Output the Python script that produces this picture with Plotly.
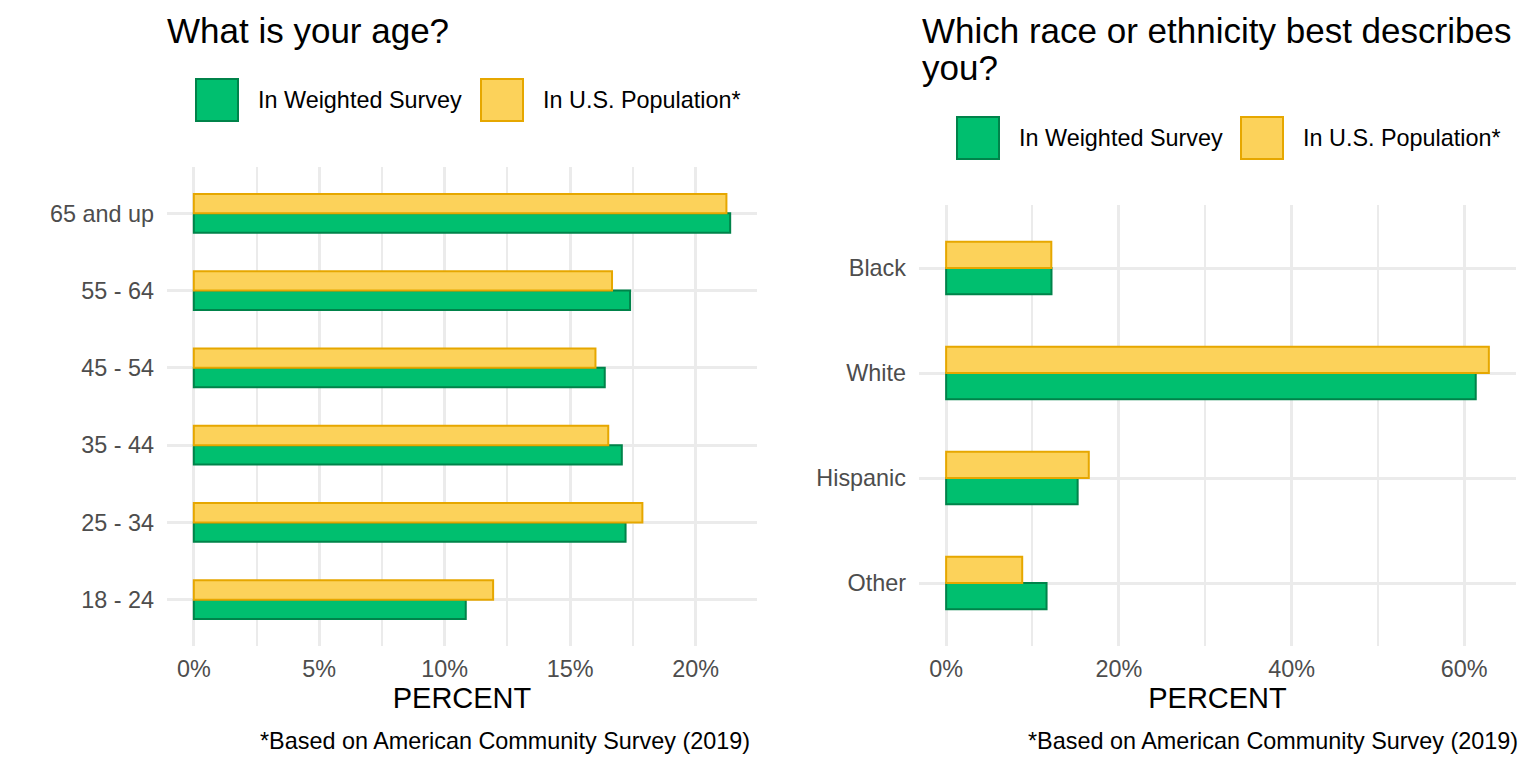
import plotly.graph_objects as go

# age panel
age_groups = ["18 - 24", "25 - 34", "35 - 44", "45 - 54", "55 - 64", "65 and up"]
age_survey = [10.84, 17.21, 17.06, 16.38, 17.39, 21.38]
age_pop = [11.93, 17.88, 16.52, 16.01, 16.67, 21.23]

# race panel
race_groups = ["Other", "Hispanic", "White", "Black"]
race_survey = [11.63, 15.23, 61.33, 12.20]
race_pop = [8.81, 16.52, 62.85, 12.18]

series_names = ["In Weighted Survey", "In U.S. Population*"]
fill_colors = ["#00BF6F", "#FCD25A"]
line_colors = ["#00834A", "#E6A700"]

# the page body keeps its 8px margin, so the figure is a bit smaller than the window
PAD = 8
W, H = 1536 - 2 * PAD, 768 - 2 * PAD
FONT = "Liberation Sans, Arial, sans-serif"


def px(x):
    return (x - PAD) / W


def py(y):
    return 1 - (y - PAD) / H


fig = go.Figure()

panels = [
    ("x", "y", age_groups, [age_survey, age_pop]),
    ("x2", "y2", race_groups, [race_survey, race_pop]),
]
for xa, ya, cats, vals in panels:
    for i in range(2):
        fig.add_trace(go.Bar(
            y=cats, x=vals[i], orientation="h", name=series_names[i],
            marker=dict(color=fill_colors[i], line=dict(color=line_colors[i], width=2)),
            xaxis=xa, yaxis=ya, showlegend=False,
        ))

grid = "#EBEBEB"
tick_font = dict(family=FONT, size=23.4, color="#4D4D4D")


def xaxis_style(domain, vmax, dtick, anchor):
    return dict(
        domain=domain, anchor=anchor, range=[-0.05 * vmax, 1.05 * vmax],
        tick0=0, dtick=dtick, ticksuffix="%", showgrid=True, gridcolor=grid, gridwidth=3,
        minor=dict(dtick=dtick / 2, tick0=0, showgrid=True, gridcolor=grid, gridwidth=2),
        zeroline=False, showline=False, ticks="", tickfont=tick_font, ticklabelstandoff=7,
        title=dict(text="PERCENT", font=dict(family=FONT, size=29, color="black"), standoff=4),
    )


def yaxis_style(domain, cats, anchor):
    return dict(
        domain=domain, anchor=anchor, type="category", categoryorder="array", categoryarray=cats,
        range=[-0.6, len(cats) - 0.4], showgrid=True, gridcolor=grid, gridwidth=3,
        zeroline=False, showline=False, ticks="", tickfont=tick_font, ticklabelstandoff=12,
    )


age_max = max(max(age_survey), max(age_pop))
race_max = max(max(race_survey), max(race_pop))

fig.update_layout(
    width=W, height=H,
    margin=dict(l=0, r=0, t=0, b=0),
    paper_bgcolor="white", plot_bgcolor="white",
    barmode="group", bargap=0.5, bargroupgap=0,
    font=dict(family=FONT, color="black"),
    xaxis=xaxis_style([px(167), px(757)], age_max, 5, "y"),
    yaxis=yaxis_style([py(646), py(167)], age_groups, "x"),
    xaxis2=xaxis_style([px(919), px(1516)], race_max, 20, "y2"),
    yaxis2=yaxis_style([py(646), py(205)], race_groups, "x2"),
)

# titles and captions
titles = [("What is your age?", 165, 30),
          ("Which race or ethnicity best describes", 920, 30),
          ("you?", 920, 68)]
for text, x, y in titles:
    fig.add_annotation(text=text, x=px(x), y=py(y), xref="paper", yref="paper",
                       xanchor="left", yanchor="middle", showarrow=False, align="left",
                       font=dict(family=FONT, size=35, color="black"))

for x_right in (752, 1520):
    fig.add_annotation(text="*Based on American Community Survey (2019)", x=px(x_right), y=py(741),
                       xref="paper", yref="paper", xanchor="right", yanchor="middle",
                       showarrow=False, font=dict(family=FONT, size=23.4, color="black"))

# legends drawn as keys + labels
legend_spots = [(196, 481, 100), (957, 1241, 138)]
for x1, x2, yc in legend_spots:
    for i, xk in enumerate((x1, x2)):
        fig.add_shape(type="rect", xref="paper", yref="paper",
                      x0=px(xk), x1=px(xk + 42), y0=py(yc + 21), y1=py(yc - 21),
                      fillcolor=fill_colors[i], line=dict(color=line_colors[i], width=2))
        fig.add_annotation(text=series_names[i], x=px(xk + 60), y=py(yc), xref="paper", yref="paper",
                           xanchor="left", yanchor="middle", showarrow=False,
                           font=dict(family=FONT, size=23.4, color="black"))

fig.write_html("out.html")
